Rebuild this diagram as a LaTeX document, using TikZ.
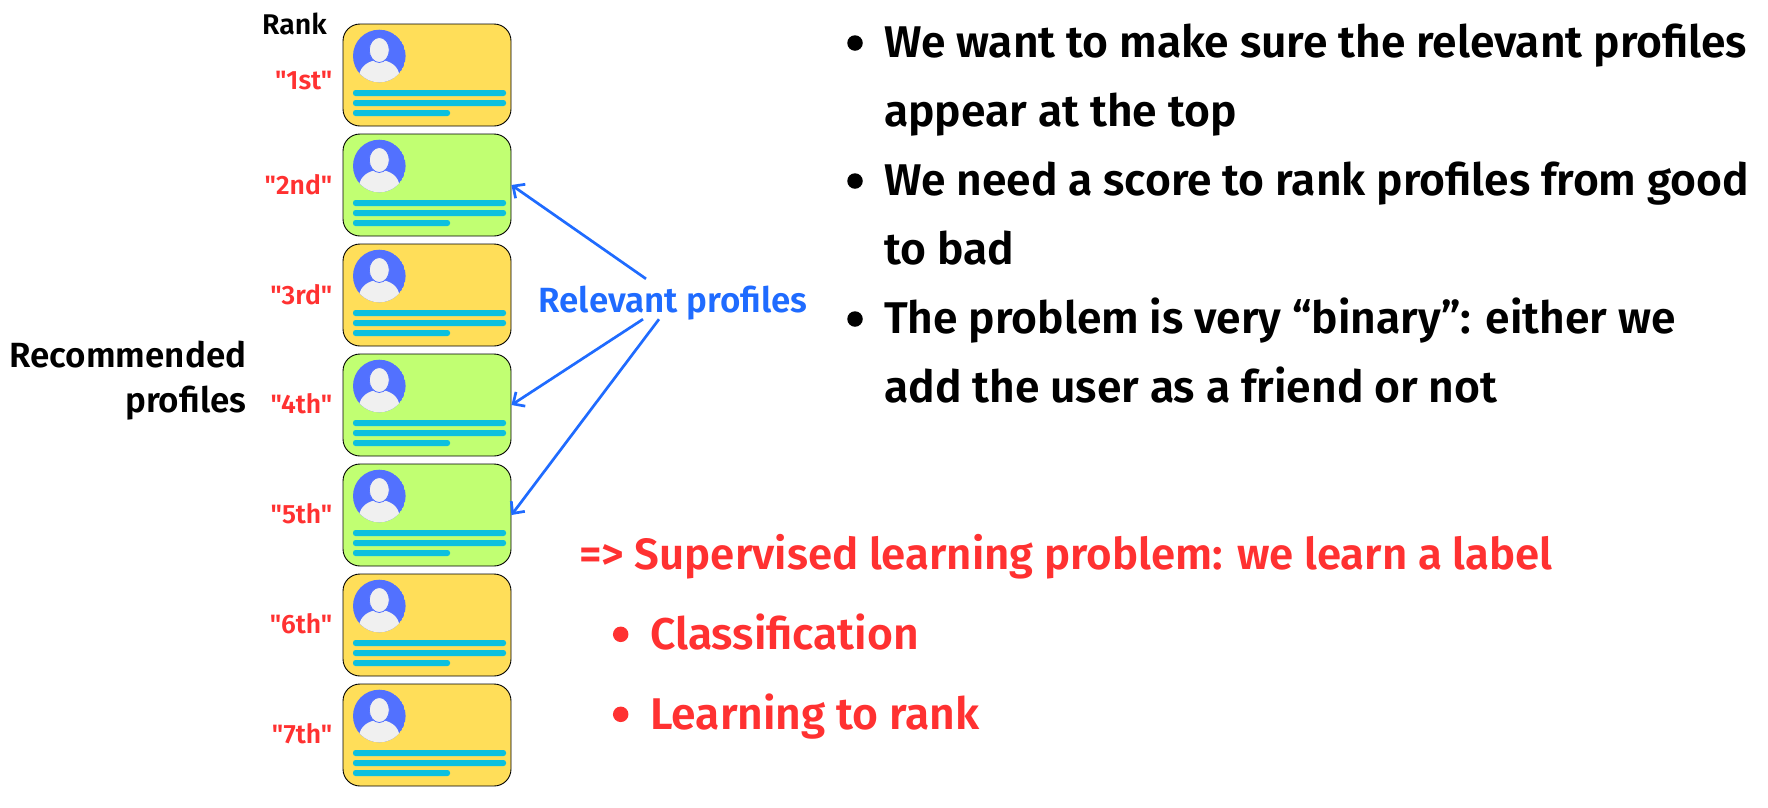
\documentclass[tikz,border=0pt]{standalone}
\usepackage{fontspec}
\setmainfont{Fira Sans}[BoldFont={Fira Sans SemiBold}]
\newfontfamily\rankfont{Fira Sans}[BoldFont={Fira Sans SemiBold}]
\usepackage{xcolor}
\usetikzlibrary{arrows.meta}
\definecolor{cardyellow}{HTML}{FFDE59}
\definecolor{cardgreen}{HTML}{C1FF72}
\definecolor{avatarblue}{HTML}{5271FF}
\definecolor{avatarface}{HTML}{F0F0F0}
\definecolor{barcyan}{HTML}{0CC0DF}
\definecolor{rankred}{HTML}{FF3131}
\definecolor{relblue}{HTML}{1F6BFF}
\tikzset{
  profilecard/.style={draw=black, line width=0.9pt, rounded corners=17pt, minimum width=168pt, minimum height=102pt, inner sep=0pt},
  ranklabel/.style={text=rankred, font=\rankfont\bfseries\fontsize{26.5}{30}\selectfont, anchor=base east, inner sep=0pt},
  sidelabel/.style={font=\bfseries\fontsize{35}{39}\selectfont, anchor=base east, inner sep=0pt},
  mainline/.style={font=\bfseries\fontsize{44.4}{50}\selectfont, anchor=base west, inner sep=0pt},
  redline/.style={mainline, text=rankred},
  dotmark/.style={circle, fill=#1, minimum size=15.5pt, inner sep=0pt},
  relarrow/.style={draw=relblue, line width=2.7pt, -{Straight Barb[length=9pt,width=17pt,line width=2.7pt]}}
}
\begin{document}
\begin{tikzpicture}[x=1pt,y=-1pt]
\useasboundingbox (0,0) rectangle (1768,807);

%profile cards
\foreach \n/\cardfill/\ranktext/\rankbase in {1/cardyellow/"1st"/89, 2/cardgreen/"2nd"/194, 3/cardyellow/"3rd"/304, 4/cardgreen/"4th"/413, 5/cardgreen/"5th"/523, 6/cardyellow/"6th"/633, 7/cardyellow/"7th"/743}{
  \pgfmathsetmacro{\cy}{75+110*(\n-1)}
  \node [profilecard, fill=\cardfill] (card\n) at (427,\cy) {};
  \begin{scope}
    \clip (379.3,\cy-19) circle (26.3);
    \fill [avatarblue] (379.3,\cy-19) circle (26.3);
    \fill [avatarface] (379.3,\cy+1) ellipse (20 and 16);
  \end{scope}
  \draw [avatarblue, fill=avatarface, line width=0.8pt] (379.3,\cy-25) ellipse (10 and 12.5);
  \fill [barcyan, rounded corners=2.5pt] (353,\cy+15) rectangle (506,\cy+21);
  \fill [barcyan, rounded corners=2.5pt] (353,\cy+25) rectangle (506,\cy+31);
  \fill [barcyan, rounded corners=2.5pt] (353,\cy+35) rectangle (450,\cy+41);
  \node [ranklabel] (rank\n) at (332.5,\rankbase) {\ranktext};
}

%side labels
\node [sidelabel, font=\bfseries\fontsize{28.5}{32}\selectfont] (ranktitle) at (327,34) {Rank};
\node [sidelabel] (recomm) at (246.5,367) {Recommended};
\node [sidelabel] (profs) at (246.5,412) {profiles};

%relevant arrows
\node [text=relblue, font=\bfseries\fontsize{35}{40}\selectfont, minimum height=40pt, minimum width=267pt, inner sep=0pt] (relevant) at (673,303) {Relevant profiles};
\draw [relarrow] ([xshift=-27pt,yshift=4pt]relevant.north) -- (card2.east);
\draw [relarrow] ([xshift=-30pt,yshift=4pt]relevant.south) -- (card4.east);
\draw [relarrow] ([xshift=-14pt,yshift=4pt]relevant.south) -- (card5.east);

%black bullets
\node [dotmark=black] (dota) at (855,43) {};
\node [dotmark=black] (dotb) at (855,181) {};
\node [dotmark=black] (dotc) at (855,319) {};
\node [mainline] (linea) at (884,57) {We want to make sure the relevant profiles};
\node [mainline] (lineb) at (884,126) {appear at the top};
\node [mainline] (linec) at (884,195) {We need a score to rank profiles from good};
\node [mainline] (lined) at (884,264) {to bad};
\node [mainline] (linee) at (884,333) {The problem is very “binary”: either we};
\node [mainline] (linef) at (884,402) {add the user as a friend or not};

%red part
\node [redline, font=\bfseries\fontsize{43.8}{50}\selectfont] (superv) at (579,569) {=> Supervised learning problem: we learn a label};
\node [dotmark=rankred] (dotd) at (620.7,634.3) {};
\node [dotmark=rankred] (dote) at (620.7,714.3) {};
\node [redline] (classif) at (650,649) {Classification};
\node [redline] (ltr) at (650,729) {Learning to rank};

\end{tikzpicture}
\end{document}
